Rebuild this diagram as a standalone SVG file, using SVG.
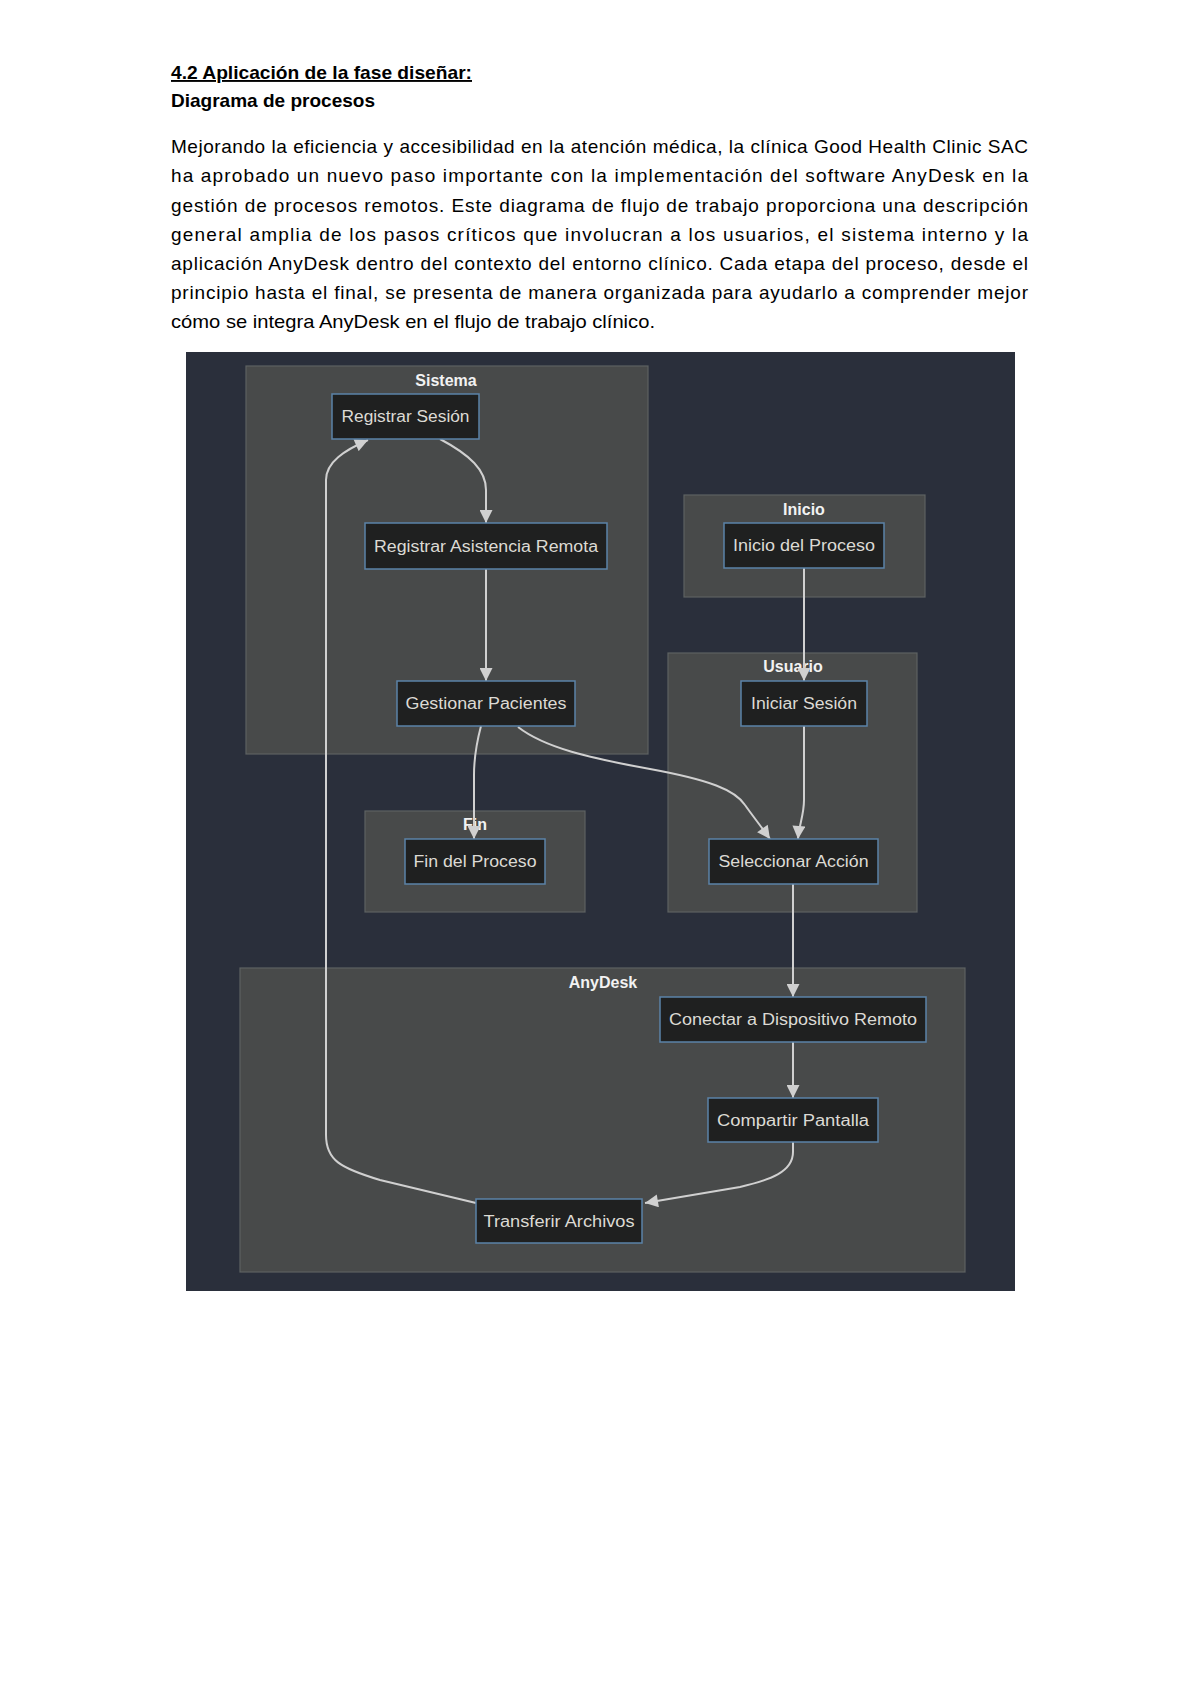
<svg xmlns="http://www.w3.org/2000/svg" width="1200" height="1698" viewBox="0 0 1200 1698">
<style>
.page{fill:#000;font-family:"Liberation Sans",Arial,sans-serif;font-size:19px}
.b{font-weight:bold}
.cl{fill:#484a4a;stroke:#5e6262;stroke-width:1.2}
.cll{fill:#f2f2f2;font-family:"Liberation Sans",Arial,sans-serif;font-size:16px;font-weight:bold;text-anchor:middle}
.nd{fill:#1f2020;stroke:#5b83a8;stroke-width:1.5}
.nt{fill:#dcdad4;font-family:"Liberation Sans",Arial,sans-serif;font-size:16px;text-anchor:middle}
.e{fill:none;stroke:#d0d0d0;stroke-width:2}
</style>
<defs>
<marker id="ah" viewBox="0 0 10 10" refX="10" refY="5" markerWidth="15" markerHeight="13" markerUnits="userSpaceOnUse" orient="auto">
<path d="M0,0 L10,5 L0,10 z" fill="#d0d0d0"/>
</marker>
</defs>
<rect width="1200" height="1698" fill="#ffffff"/>
<g id="text">
<text class="page b" x="171" y="79" textLength="301" lengthAdjust="spacingAndGlyphs" text-decoration="underline">4.2 Aplicación de la fase diseñar:</text>
<text class="page b" x="171" y="107" textLength="204" lengthAdjust="spacingAndGlyphs">Diagrama de procesos</text>
<text class="page" x="171" y="153" textLength="857" lengthAdjust="spacing">Mejorando la eficiencia y accesibilidad en la atención médica, la clínica Good Health Clinic SAC</text>
<text class="page" x="171" y="182" textLength="857" lengthAdjust="spacing">ha aprobado un nuevo paso importante con la implementación del software AnyDesk en la</text>
<text class="page" x="171" y="212" textLength="857" lengthAdjust="spacing">gestión de procesos remotos. Este diagrama de flujo de trabajo proporciona una descripción</text>
<text class="page" x="171" y="241" textLength="857" lengthAdjust="spacing">general amplia de los pasos críticos que involucran a los usuarios, el sistema interno y la</text>
<text class="page" x="171" y="270" textLength="857" lengthAdjust="spacing">aplicación AnyDesk dentro del contexto del entorno clínico. Cada etapa del proceso, desde el</text>
<text class="page" x="171" y="299" textLength="857" lengthAdjust="spacing">principio hasta el final, se presenta de manera organizada para ayudarlo a comprender mejor</text>
<text class="page" x="171" y="328" textLength="484" lengthAdjust="spacingAndGlyphs">cómo se integra AnyDesk en el flujo de trabajo clínico.</text>
</g>
<rect x="186" y="352" width="829" height="939" fill="#2a2f3b"/>
<g id="cluster-sistema"><rect class="cl" x="246" y="366" width="402" height="388"/><text class="cll" x="446" y="386">Sistema</text></g>
<g id="cluster-inicio"><rect class="cl" x="684" y="495" width="241" height="102"/><text class="cll" x="804" y="515">Inicio</text></g>
<g id="cluster-usuario"><rect class="cl" x="668" y="653" width="249" height="259"/><text class="cll" x="793" y="672">Usuario</text></g>
<g id="cluster-fin"><rect class="cl" x="365" y="811" width="220" height="101"/><text class="cll" x="475" y="830">Fin</text></g>
<g id="cluster-anydesk"><rect class="cl" x="240" y="968" width="725" height="304"/><text class="cll" x="603" y="988">AnyDesk</text></g>
<g id="edges">
<path class="e" d="M804,568 L804,681" marker-end="url(#ah)"/>
<path class="e" d="M804,726 L804,800 C804,815 799,825 798,839" marker-end="url(#ah)"/>
<path class="e" d="M793,884 L793,997" marker-end="url(#ah)"/>
<path class="e" d="M793,1042 L793,1098" marker-end="url(#ah)"/>
<path class="e" d="M793,1142 L793,1152 C793,1172 770,1180 740,1187 L645,1203" marker-end="url(#ah)"/>
<path class="e" d="M476,1203 L380,1180 C340,1168 326,1160 326,1135 L326,480 C326,462 345,450 368,440" marker-end="url(#ah)"/>
<path class="e" d="M440,439 C470,455 486,470 486,490 L486,523" marker-end="url(#ah)"/>
<path class="e" d="M486,569 L486,681" marker-end="url(#ah)"/>
<path class="e" d="M481,726 C476,745 474,760 474,775 L474,839" marker-end="url(#ah)"/>
<path class="e" d="M518,727 C545,748 590,758 650,769 C710,780 735,790 745,805 C752,815 760,825 770,839" marker-end="url(#ah)"/>
</g>
<g id="n-registrar-sesion"><rect class="nd" x="332" y="394" width="147" height="45"/><text class="nt" x="405.5" y="422" textLength="128" lengthAdjust="spacingAndGlyphs">Registrar Sesión</text></g>
<g id="n-registrar-asistencia"><rect class="nd" x="365" y="523" width="242" height="46"/><text class="nt" x="486" y="552" textLength="224" lengthAdjust="spacingAndGlyphs">Registrar Asistencia Remota</text></g>
<g id="n-gestionar"><rect class="nd" x="397" y="681" width="178" height="45"/><text class="nt" x="486" y="709" textLength="161" lengthAdjust="spacingAndGlyphs">Gestionar Pacientes</text></g>
<g id="n-inicio"><rect class="nd" x="724" y="523" width="160" height="45"/><text class="nt" x="804" y="551" textLength="142" lengthAdjust="spacingAndGlyphs">Inicio del Proceso</text></g>
<g id="n-iniciar"><rect class="nd" x="741" y="681" width="126" height="45"/><text class="nt" x="804" y="709" textLength="106" lengthAdjust="spacingAndGlyphs">Iniciar Sesión</text></g>
<g id="n-seleccionar"><rect class="nd" x="709" y="839" width="169" height="45"/><text class="nt" x="793.5" y="867" textLength="150" lengthAdjust="spacingAndGlyphs">Seleccionar Acción</text></g>
<g id="n-fin"><rect class="nd" x="405" y="839" width="140" height="45"/><text class="nt" x="475" y="867" textLength="123" lengthAdjust="spacingAndGlyphs">Fin del Proceso</text></g>
<g id="n-conectar"><rect class="nd" x="660" y="997" width="266" height="45"/><text class="nt" x="793" y="1025" textLength="248" lengthAdjust="spacingAndGlyphs">Conectar a Dispositivo Remoto</text></g>
<g id="n-compartir"><rect class="nd" x="708" y="1098" width="170" height="44"/><text class="nt" x="793" y="1126" textLength="152" lengthAdjust="spacingAndGlyphs">Compartir Pantalla</text></g>
<g id="n-transferir"><rect class="nd" x="476" y="1199" width="166" height="44"/><text class="nt" x="559" y="1227" textLength="151" lengthAdjust="spacingAndGlyphs">Transferir Archivos</text></g>
</svg>
